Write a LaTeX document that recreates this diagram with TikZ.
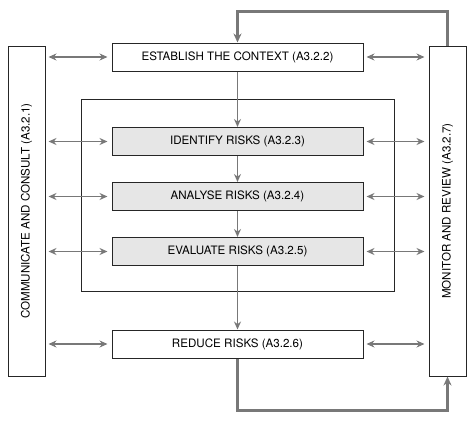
\documentclass[tikz,border=0pt]{standalone}
\usepackage{fontspec}
\setmainfont{TeX Gyre Heros}
\usepackage{xcolor}
\usetikzlibrary{arrows.meta, positioning, calc}
\definecolor{linkgray}{RGB}{120,120,120}
\definecolor{phasegray}{RGB}{230,230,230}
\tikzstyle{stage} = [rectangle, minimum width=251pt, minimum height=28pt, text centered, draw=black!85, line width=1pt, fill=white, font=\fontsize{11.6}{13}\selectfont]
\tikzstyle{phase} = [stage, fill=phasegray]
\tikzstyle{sidebar} = [rectangle, minimum width=37pt, minimum height=330pt, draw=black!85, line width=1pt, font=\fontsize{11.6}{13}\selectfont]
\tikzstyle{arrow} = [line width=1.7pt, draw=linkgray, -{Stealth[length=8pt,width=7pt]}]
\tikzstyle{link} = [line width=1.7pt, draw=linkgray, {Stealth[length=8pt,width=7pt]}-{Stealth[length=8pt,width=7pt]}, shorten <=3pt, shorten >=4pt]
\tikzstyle{feedback} = [line width=2.6pt, draw=linkgray, -{Stealth[length=9pt,width=8pt]}]

\begin{document}
\begin{tikzpicture}[x=1pt, y=1pt, node distance=26pt]
    \useasboundingbox (0,0) rectangle (474,-424);
        \node (frame) [rectangle, draw=black!85, line width=1pt, minimum width=313pt, minimum height=192pt] at (237.5,-195) {};
        \node (establish) [stage] at (237.5,-57) {ESTABLISH THE CONTEXT (A3.2.2)};
        \node (identify) [phase] at (237.5,-141.5) {IDENTIFY RISKS (A3.2.3)};
        \node (analyse) [phase, below=of identify] {ANALYSE RISKS (A3.2.4)};
        \node (evaluate) [phase, below=of analyse] {EVALUATE RISKS (A3.2.5)};
        \node (reduce) [stage] at (237.5,-344) {REDUCE RISKS (A3.2.6)};
        \node (consult) [sidebar] at (26.5,-211) {};
        \node (monitor) [sidebar] at (447.5,-211) {};
        \node [rotate=90, font=\fontsize{11.6}{13}\selectfont] at (consult.center) {COMMUNICATE AND CONSULT (A3.2.1)};
        \node [rotate=90, font=\fontsize{11.6}{13}\selectfont] at (monitor.center) {MONITOR AND REVIEW (A3.2.7)};

        % main flow
        \draw [arrow] (establish) -- (identify);
        \draw [arrow] (identify) -- (analyse);
        \draw [arrow] (analyse) -- (evaluate);
        \draw [arrow] (evaluate) -- (reduce);

        % links to the side bars
        \foreach \step in {establish, identify, analyse, evaluate, reduce} {
            \draw [link] (\step.west -| consult.east) -- (\step.west);
            \draw [link] (\step.east) -- (\step.east -| monitor.west);
        }

        % feedback loops
        \draw [feedback] (monitor.north) -- ++(0,34) -| (establish.north);
        \draw [feedback] (reduce.south) -- ++(0,-52) -| (monitor.south);
    \end{tikzpicture}
\end{document}
